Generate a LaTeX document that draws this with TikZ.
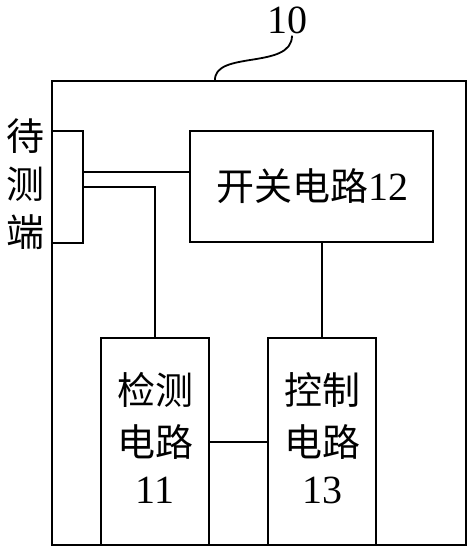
\documentclass[tikz,border=0pt]{standalone}
\usepackage{fontspec}
\setmainfont{Liberation Serif}
\newfontfamily\cjk{Noto Sans CJK SC}
\begin{document}
\begin{tikzpicture}[x=1pt,y=-1pt,
  box/.style={draw,line width=1.8pt,inner sep=0pt,outer sep=0pt},
  wire/.style={line width=1.8pt},
  lbl/.style={inner sep=0pt,font=\fontsize{38}{40}\selectfont},
  num/.style={inner sep=0pt,font=\fontsize{40}{42}\selectfont}]
\useasboundingbox (0,0) rectangle (474,554);
\node[box,minimum width=414pt,minimum height=464pt] (outer) at (259,313) {};
\node[box,minimum width=31pt,minimum height=112pt] (term) at (67.5,187) {};
\node[box,minimum width=243pt,minimum height=111pt] (sw) at (311.5,186.5) {};
\node[box,minimum width=108pt,minimum height=207pt] (det) at (155,441.5) {};
\node[box,minimum width=108pt,minimum height=207pt] (ctl) at (322,441.5) {};
% labels
\node[num] (n10) at (287,20) {10};
\coordinate (lead) at (215,81);
\draw[wire] (lead) .. controls (213,50) and (292,70) .. ([xshift=5pt,yshift=-2pt]n10.south);
\node[lbl] (t1) at (25,136) {\cjk 待};
\node[lbl] (t2) at (25,184) {\cjk 测};
\node[lbl] (t3) at (25,232) {\cjk 端};
\node[lbl] (swt) at (312,186) {{\cjk 开关电路}\fontsize{40}{42}\selectfont 12};
\node[lbl] (d1) at (155,390) {\cjk 检测};
\node[lbl] (d2) at (155,442) {\cjk 电路};
\node[num] (d3) at (155,490) {11};
\node[lbl] (c1) at (322,390) {\cjk 控制};
\node[lbl] (c2) at (322,442) {\cjk 电路};
\node[num] (c3) at (322,490) {13};
% connectors
\draw[wire] (term.east |- 0,172) -- (sw.west |- 0,172);
\draw[wire] (term.east |- 0,187) -| (det.north);
\draw[wire] (sw.south -| ctl.north) -- (ctl.north);
\draw[wire] (det.east |- 0,442) -- (ctl.west |- 0,442);
\end{tikzpicture}
\end{document}
